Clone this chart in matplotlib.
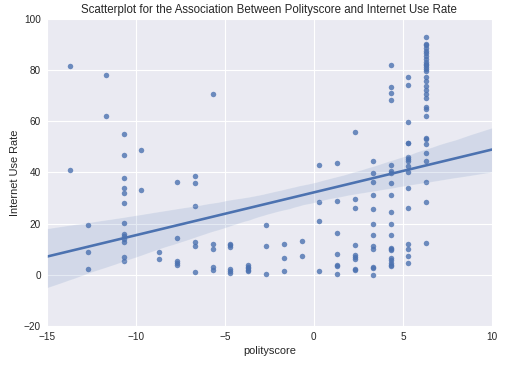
"""Scatterplot + regression of internet use rate vs (centered) polityscore."""
import matplotlib
matplotlib.use("Agg")
import matplotlib.pyplot as plt
import numpy as np
import seaborn as sns

# centered polityscore = raw score - sample mean
POLITY_MEAN = 3.69

polity_raw = (
    [-10] * 2 + [-9] * 3 + [-8] * 2 + [-7] * 13 + [-6] * 2 + [-5] * 2 + [-4] * 5
    + [-3] * 6 + [-2] * 5 + [-1] * 6 + [0] * 5 + [1] * 3 + [2] * 3 + [3] * 2
    + [4] * 4 + [5] * 7 + [6] * 9 + [7] * 12 + [8] * 20 + [9] * 16 + [10] * 31
)
internet_use = [
    # -10
    81.7, 41.0,
    # -9
    19.4, 8.9, 2.4,
    # -8
    78.2, 62.1,
    # -7
    55.1, 46.9, 38.0, 34.1, 31.8, 27.9, 20.4, 15.9, 15.0, 13.8, 13.0, 6.8, 5.2,
    # -6
    48.9, 33.3,
    # -5
    9.1, 6.0,
    # -4
    36.3, 14.5, 5.2, 4.7, 3.9,
    # -3
    38.8, 35.7, 26.7, 13.0, 11.4, 0.9,
    # -2
    70.8, 12.2, 9.9, 3.0, 1.7,
    # -1
    12.2, 11.5, 10.8, 2.2, 1.5, 0.8,
    # 0
    3.7, 3.0, 2.5, 1.9, 1.3,
    # 1
    19.3, 11.4, 0.5,
    # 2
    12.2, 6.4, 1.3,
    # 3
    13.4, 7.2,
    # 4
    43.1, 28.3, 21.2, 1.3,
    # 5
    43.8, 28.9, 16.5, 8.3, 4.0, 3.5, 0.5,
    # 6
    56.0, 29.7, 26.3, 11.8, 7.9, 6.9, 6.3, 2.3, 2.0,
    # 7
    44.3, 39.6, 36.3, 31.0, 25.8, 20.0, 15.7, 11.1, 9.9, 2.9, 2.5, 0.1,
    # 8
    82.2, 73.6, 71.2, 68.5, 43.1, 40.5, 39.6, 35.7, 31.0, 24.7, 19.7, 15.7,
    10.3, 9.9, 9.5, 6.4, 5.6, 4.8, 4.0, 3.3,
    # 9
    77.5, 74.0, 59.9, 51.7, 51.5, 46.2, 45.4, 44.6, 42.7, 40.0, 34.1, 26.3,
    12.2, 9.9, 7.5, 4.8,
    # 10
    93.1, 90.4, 90.0, 88.8, 87.6, 86.8, 85.7, 84.5, 83.3, 82.5, 82.1, 81.4,
    80.6, 79.8, 77.5, 75.9, 73.9, 72.4, 70.8, 69.3, 65.7, 64.9, 62.2, 53.6,
    52.9, 51.3, 47.8, 44.3, 36.4, 28.6, 12.6,
]

x_ticks = [-15, -10, -5, 0, 5, 10]
y_ticks = [-20, 0, 20, 40, 60, 80, 100]

sns.set_style("darkgrid")
plt.rcParams["font.family"] = ["Liberation Sans", "DejaVu Sans"]

x = np.array(polity_raw) - POLITY_MEAN
y = np.array(internet_use)

fig = plt.figure(figsize=(505 / 72, 365 / 72), dpi=72)
ax = fig.add_axes([0.093, 0.107, 0.881, 0.841])
ax.set_xlim(-15, 10)
ax.set_ylim(-20, 100)

blue = "#4C72B0"
sns.regplot(x=x, y=y, ax=ax, truncate=False, color=blue, seed=0,
            scatter_kws={"s": 30, "alpha": 0.8, "linewidths": 0},
            line_kws={"lw": 2.6})

ax.set_xlim(-15, 10)
ax.set_ylim(-20, 100)
ax.set_xticks(x_ticks)
ax.set_yticks(y_ticks)
ax.tick_params(labelsize=10, colors="#262626", length=0, pad=6)
ax.grid(color="white", lw=1.1)
ax.set_xlabel("polityscore", fontsize=11, color="#262626")
ax.set_ylabel("Internet Use Rate", fontsize=11, color="#262626")
ax.set_title("Scatterplot for the Association Between Polityscore and Internet Use Rate",
             fontsize=11.5, color="#262626", pad=6)

plt.savefig("out.png", dpi=72)
